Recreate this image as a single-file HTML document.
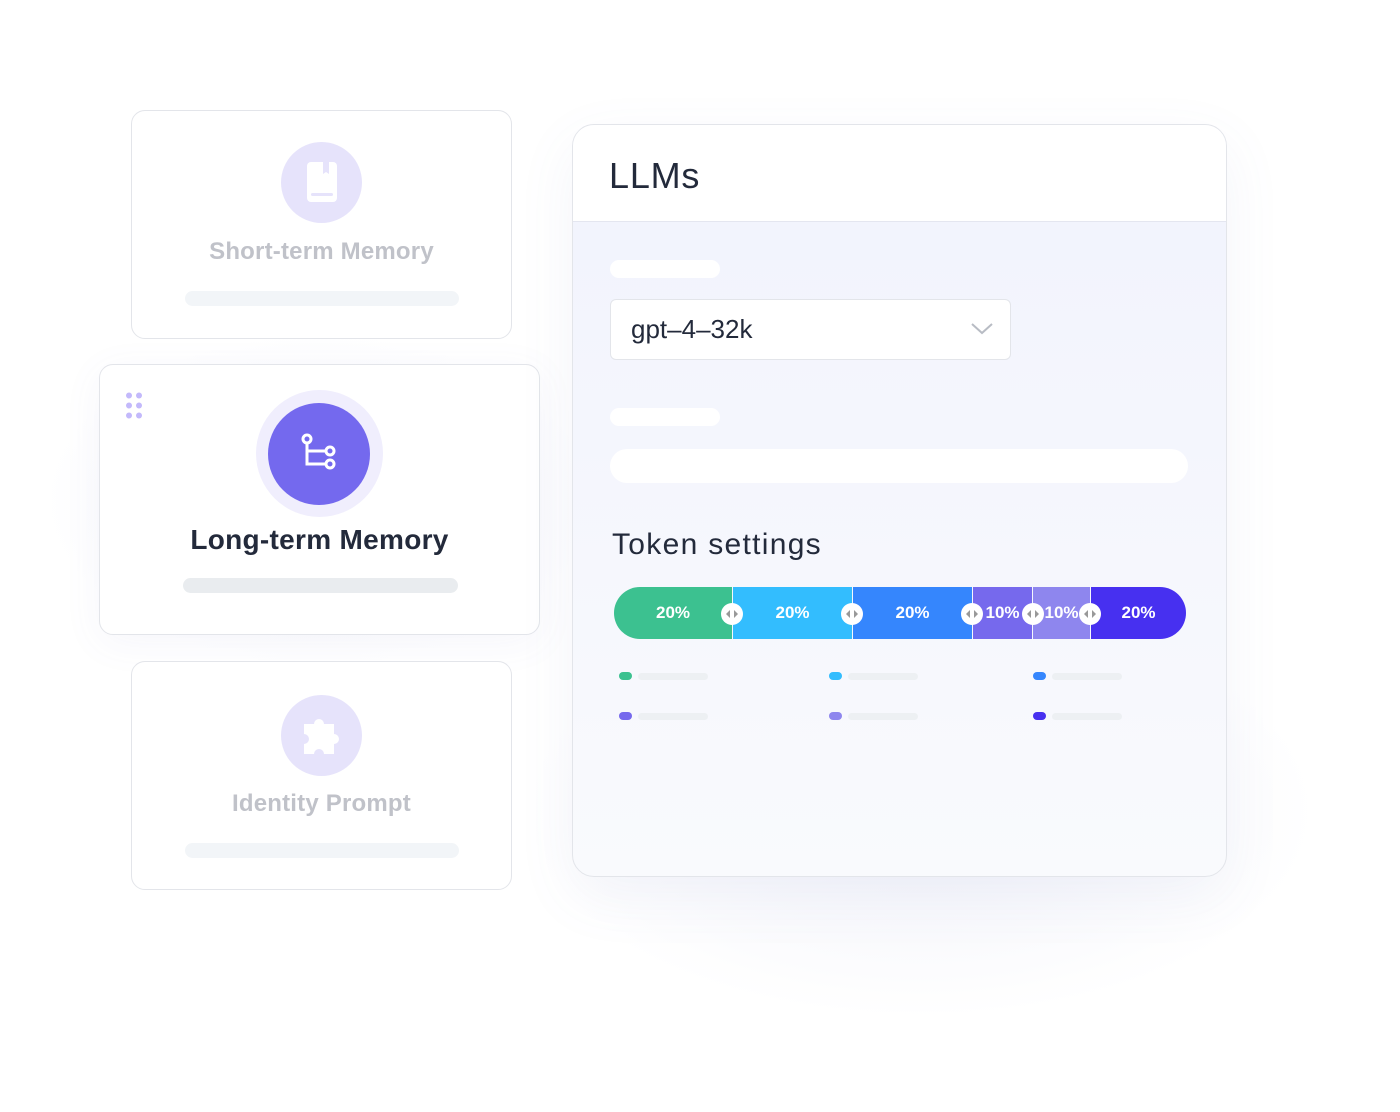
<!DOCTYPE html>
<html><head><meta charset="utf-8"><style>
*{box-sizing:border-box;margin:0;padding:0}
body{width:1400px;height:1112px;background:#fff;position:relative;overflow:hidden;font-family:"Liberation Sans",sans-serif}
.card{position:absolute;background:#fff;border:1px solid #e3e5ea;border-radius:14px}
.circ{position:absolute;border-radius:50%}
.lbl{position:absolute;left:0;right:0;text-align:center}
.bar{position:absolute;border-radius:8px}
.seg{position:absolute;top:0;height:52px;color:#fff;font-size:17px;font-weight:bold;display:flex;align-items:center;justify-content:center}
.hd{position:absolute;top:602px;margin-left:-12px}
.lg{position:absolute;width:13px;height:8px;border-radius:4px}
.ll{position:absolute;width:70px;height:7px;border-radius:4px;background:#edf0f3}
</style></head><body>
<div style="position:absolute;left:520px;top:600px;width:800px;height:420px;border-radius:50%;background:radial-gradient(ellipse at center,rgba(120,130,200,0.10),rgba(255,255,255,0) 70%)"></div>
<div style="position:absolute;left:40px;top:330px;width:560px;height:340px;border-radius:50%;background:radial-gradient(ellipse at center,rgba(120,130,200,0.07),rgba(255,255,255,0) 70%)"></div>

<div class="card" style="left:131px;top:110px;width:381px;height:229px">
  <div class="circ" style="left:149px;top:31px;width:81px;height:81px;background:#e6e3fb"></div>
  <svg style="position:absolute;left:173px;top:50px" width="34" height="42" viewBox="0 0 34 42"><rect x="2" y="1" width="30" height="40" rx="4" fill="#fff"/><path d="M18 1h6v12l-3-2-3 2z" fill="#e6e3fb"/><rect x="6" y="32" width="22" height="3" rx="1.5" fill="#e6e3fb"/></svg>
  <div class="lbl" style="top:127px;font-size:24px;font-weight:bold;color:#c0c2c9;letter-spacing:0.2px">Short-term Memory</div>
  <div class="bar" style="left:53px;top:180px;width:274px;height:15px;background:#f2f5f8"></div>
</div>

<div class="card" style="left:99px;top:364px;width:441px;height:271px;box-shadow:0 8px 40px rgba(100,110,180,0.06)">
  <svg style="position:absolute;left:25px;top:27px" width="20" height="28"><g fill="#c3b9fb"><circle cx="4" cy="3.5" r="3"/><circle cx="14" cy="3.5" r="3"/><circle cx="4" cy="13.5" r="3"/><circle cx="14" cy="13.5" r="3"/><circle cx="4" cy="23.5" r="3"/><circle cx="14" cy="23.5" r="3"/></g></svg>
  <div class="circ" style="left:156px;top:25px;width:127px;height:127px;background:#f0eefd"></div>
  <div class="circ" style="left:168px;top:38px;width:102px;height:102px;background:#7469ee"></div>
  <svg style="position:absolute;left:198px;top:67px" width="44" height="44" viewBox="0 0 44 44"><g fill="none" stroke="#fff" stroke-width="3"><circle cx="9" cy="7" r="4"/><circle cx="32" cy="19" r="4"/><circle cx="32" cy="32" r="4"/><path d="M9 11v21h19M9 19h19"/></g></svg>
  <div class="lbl" style="top:159px;font-size:28px;font-weight:bold;color:#232a3b;letter-spacing:0.3px">Long-term Memory</div>
  <div class="bar" style="left:83px;top:213px;width:275px;height:15px;background:#e9ecef"></div>
</div>

<div class="card" style="left:131px;top:661px;width:381px;height:229px">
  <div class="circ" style="left:149px;top:33px;width:81px;height:81px;background:#e6e3fb"></div>
  <svg style="position:absolute;left:168px;top:52px" width="44" height="44" viewBox="0 0 44 44"><path d="M4 10h10a5 5 0 1 1 10 0h10v10a5 5 0 1 1 0 10v10h-10a5 5 0 1 0-10 0H4V30a5 5 0 1 0 0-10z" fill="#fff"/></svg>
  <div class="lbl" style="top:128px;font-size:24px;font-weight:bold;color:#c0c2c9;letter-spacing:0.2px">Identity Prompt</div>
  <div class="bar" style="left:53px;top:181px;width:274px;height:15px;background:#f2f5f8"></div>
</div>

<div style="position:absolute;left:572px;top:124px;width:655px;height:753px;border:1px solid #e3e5ea;border-radius:22px;overflow:hidden;background:linear-gradient(#f1f3fd,#f9fafd);box-shadow:0 20px 60px rgba(100,110,180,0.07)">
  <div style="height:97px;background:#fff;border-bottom:1px solid #e4e6f0;padding:30px 0 0 36px;font-size:36px;color:#232a3b;letter-spacing:0.8px">LLMs</div>
  <div class="bar" style="left:37px;top:135px;width:110px;height:18px;background:#fff;border-radius:9px"></div>
  <div style="position:absolute;left:37px;top:174px;width:401px;height:61px;background:#fff;border:1px solid #e3e5ea;border-radius:6px;font-size:26px;color:#232a3b;padding:14px 0 0 20px">gpt–4–32k
    <svg style="position:absolute;right:16px;top:22px" width="24" height="14"><path d="M2 2l10 9 10-9" fill="none" stroke="#b8bcc4" stroke-width="2"/></svg></div>
  <div class="bar" style="left:37px;top:283px;width:110px;height:18px;background:#fff;border-radius:9px"></div>
  <div class="bar" style="left:37px;top:324px;width:578px;height:34px;background:#fff;border-radius:17px"></div>
  <div style="position:absolute;left:39px;top:403px;font-size:30px;color:#232a3b;letter-spacing:1.3px">Token settings</div>
</div>

<div style="position:absolute;left:614px;top:587px;width:572px;height:52px;border-radius:26px;overflow:hidden">
  <div class="seg" style="left:0;width:118px;background:#3cc190">20%</div>
  <div class="seg" style="left:119px;width:119px;background:#33bdfe">20%</div>
  <div class="seg" style="left:239px;width:119px;background:#3586fd">20%</div>
  <div class="seg" style="left:359px;width:59px;background:#7669ed">10%</div>
  <div class="seg" style="left:419px;width:57px;background:#8e86ee">10%</div>
  <div class="seg" style="left:477px;width:95px;background:#4730f0">20%</div>
</div>
<svg class="hd" style="left:732px" width="24" height="24"><circle cx="12" cy="12" r="11" fill="#fff"/><path d="M10 8v8l-4-4zM14 8v8l4-4z" fill="#999"/></svg>
<svg class="hd" style="left:852px" width="24" height="24"><circle cx="12" cy="12" r="11" fill="#fff"/><path d="M10 8v8l-4-4zM14 8v8l4-4z" fill="#999"/></svg>
<svg class="hd" style="left:972px" width="24" height="24"><circle cx="12" cy="12" r="11" fill="#fff"/><path d="M10 8v8l-4-4zM14 8v8l4-4z" fill="#999"/></svg>
<svg class="hd" style="left:1033px" width="24" height="24"><circle cx="12" cy="12" r="11" fill="#fff"/><path d="M10 8v8l-4-4zM14 8v8l4-4z" fill="#999"/></svg>
<svg class="hd" style="left:1090px" width="24" height="24"><circle cx="12" cy="12" r="11" fill="#fff"/><path d="M10 8v8l-4-4zM14 8v8l4-4z" fill="#999"/></svg>

<div class="lg" style="left:619px;top:672px;background:#3cc190"></div><div class="ll" style="left:638px;top:673px"></div>
<div class="lg" style="left:829px;top:672px;background:#33bdfe"></div><div class="ll" style="left:848px;top:673px"></div>
<div class="lg" style="left:1033px;top:672px;background:#3586fd"></div><div class="ll" style="left:1052px;top:673px"></div>
<div class="lg" style="left:619px;top:712px;background:#7669ed"></div><div class="ll" style="left:638px;top:713px"></div>
<div class="lg" style="left:829px;top:712px;background:#8e86ee"></div><div class="ll" style="left:848px;top:713px"></div>
<div class="lg" style="left:1033px;top:712px;background:#4730f0"></div><div class="ll" style="left:1052px;top:713px"></div>
</body></html>
